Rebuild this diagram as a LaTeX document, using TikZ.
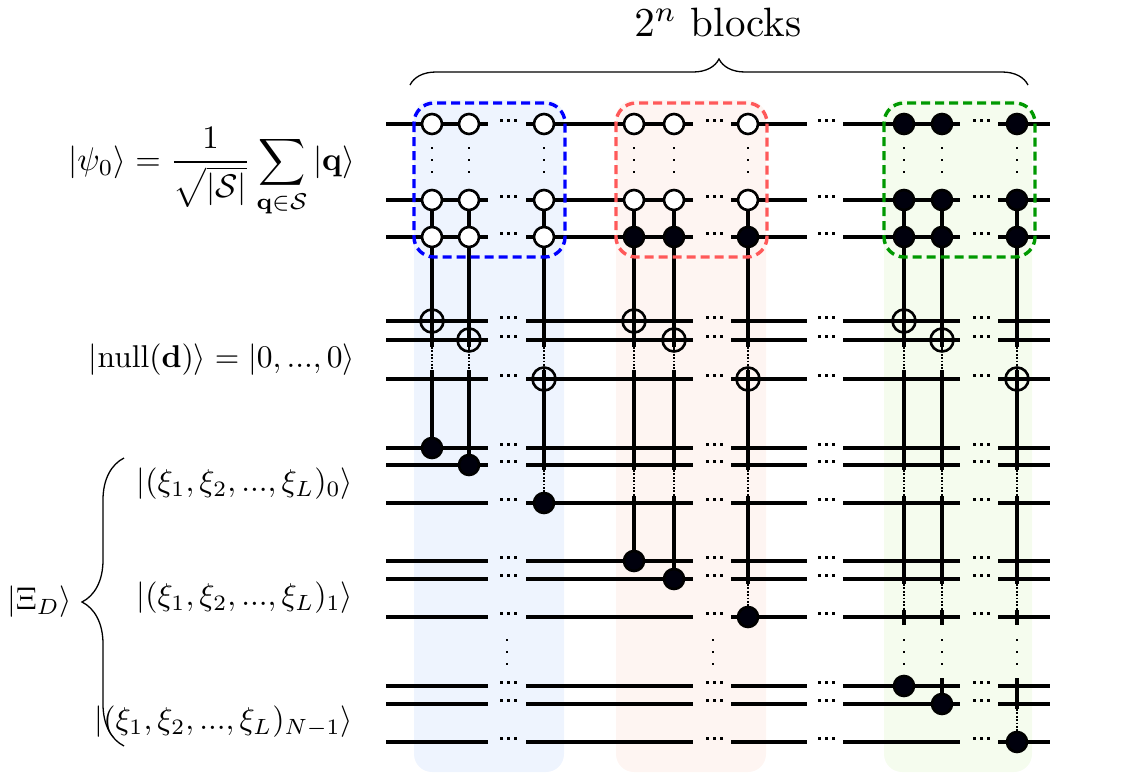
\documentclass[tikz,border=0pt]{standalone}
\usepackage{amsmath,amssymb}
\usetikzlibrary{decorations.pathreplacing}
\begin{document}
\begin{tikzpicture}[x=1pt,y=-1pt,line width=3.2pt,
  ctrlo/.style={circle,draw,fill=white,line width=2.6pt,inner sep=0,minimum size=20pt},
  ctrlc/.style={circle,draw,fill=black!95!blue,line width=2.6pt,inner sep=0,minimum size=20pt},
  targ/.style={circle,draw,line width=2.6pt,inner sep=0,minimum size=23pt,
    path picture={\draw[line width=2.6pt] (path picture bounding box.north)--(path picture bounding box.south)
      (path picture bounding box.west)--(path picture bounding box.east);}},
  lbl/.style={scale=3.15,inner sep=0},
  dashbox/.style={dashed,line width=3.4pt,rounded corners=20pt,dash pattern=on 9pt off 5pt}]
\useasboundingbox (0,0) rectangle (1125,774);
\definecolor{bgb}{HTML}{EEF4FE}\definecolor{bgr}{HTML}{FEF5F2}\definecolor{bgg}{HTML}{F5FCEE}
\fill[bgb,rounded corners=18pt] (414,100) rectangle (564,772);
\fill[bgr,rounded corners=18pt] (616,100) rectangle (766,772);
\fill[bgg,rounded corners=18pt] (884,100) rectangle (1032,772);
% wires
\foreach \y in {124,200,237,321,340,379,448,465,503,561,579,617,686,704,742}{
  \draw (386,\y)--(488,\y) (526,\y)--(693,\y) (731,\y)--(807,\y) (843,\y)--(960,\y) (998,\y)--(1050,\y);
  \foreach \xx in {507,713,825,980}{
    \foreach \d in {-7,0,7}{\fill ([xshift=\d pt]\xx,\y-2) rectangle ++(3,-3);}}
}
\foreach \xx in {507,713}{\foreach \yy in {640,652,664}{\fill (\xx-1.3,\yy-1.3) rectangle ++(2.6,2.6);}}
% columns
\newcommand{\vcol}[2]{%
  \foreach \yy in {148,160,172}{\fill (#1-1.3,\yy-1.3) rectangle ++(2.6,2.6);}
  \begin{scope}\clip (#1-6,200) rectangle (#1+6,#2);
  \draw (#1,195)--(#1,347) (#1,370)--(#1,470) (#1,496)--(#1,584) (#1,610)--(#1,625) (#1,678)--(#1,709) (#1,735)--(#1,760);
  \draw[line width=2pt,dash pattern=on 1.8pt off 1.6pt] (#1,347)--(#1,370) (#1,470)--(#1,496) (#1,584)--(#1,610) (#1,709)--(#1,735);
  \foreach \yy in {640,652,664}{\fill (#1-1.3,\yy-1.3) rectangle ++(2.6,2.6);}
  \end{scope}}
\foreach \c/\e in {432/448,469/465,544/503,634/561,674/579,748/617,904/686,942/704,1017/742}{\vcol{\c}{\e}}
\foreach \c/\t/\e [count=\i] in {432/321/448,469/340/465,544/379/503}{
  \node[ctrlo] (bA\i) at (\c,124) {}; \node[ctrlo] (bB\i) at (\c,200) {}; \node[ctrlo] (bC\i) at (\c,237) {};
  \node[targ] (bT\i) at (\c,\t) {}; \node[ctrlc] (bK\i) at (\c,\e) {};}
\foreach \c/\t/\e [count=\i] in {634/321/561,674/340/579,748/379/617}{
  \node[ctrlo] (rA\i) at (\c,124) {}; \node[ctrlo] (rB\i) at (\c,200) {}; \node[ctrlc] (rC\i) at (\c,237) {};
  \node[targ] (rT\i) at (\c,\t) {}; \node[ctrlc] (rK\i) at (\c,\e) {};}
\foreach \c/\t/\e [count=\i] in {904/321/686,942/340/704,1017/379/742}{
  \node[ctrlc] (gA\i) at (\c,124) {}; \node[ctrlc] (gB\i) at (\c,200) {}; \node[ctrlc] (gC\i) at (\c,237) {};
  \node[targ] (gT\i) at (\c,\t) {}; \node[ctrlc] (gK\i) at (\c,\e) {};}
\draw[dashbox,blue] (414,103) rectangle (565,257);
\draw[dashbox,red!65] (616,103) rectangle (767,257);
\draw[dashbox,green!60!black] (884,103) rectangle (1035,257);
% braces
\draw[line width=1.3pt,decorate,decoration={brace,amplitude=26pt}] (410,85)--(1028,85);
\node[scale=4.1,inner sep=0] (blk) at (718,22) {$2^n$ blocks};
\draw[line width=1.3pt,decorate,decoration={brace,amplitude=42pt,mirror}] (124,458)--(124,746);
\node[lbl,anchor=west] (xi) at (2,602) {$|\Xi_D\rangle$};
% labels
\node[lbl,scale=1.04,anchor=east] (psi) at (360,172) {$|\psi_0\rangle=\dfrac{1}{\sqrt{|\mathcal{S}|}}\displaystyle\sum_{\mathbf{q}\in\mathcal{S}}|\mathbf{q}\rangle$};
\node[lbl,anchor=east] (nul) at (360,360) {$|\mathrm{null}(\mathbf{d})\rangle=|0,...,0\rangle$};
\node[lbl,anchor=east] (x0) at (358,484) {$|(\xi_1,\xi_2,...,\xi_L)_0\rangle$};
\node[lbl,anchor=east] (x1) at (358,598) {$|(\xi_1,\xi_2,...,\xi_L)_1\rangle$};
\node[lbl,anchor=east] (xn) at (358,722) {$|(\xi_1,\xi_2,...,\xi_L)_{N-1}\rangle$};
\end{tikzpicture}
\end{document}
